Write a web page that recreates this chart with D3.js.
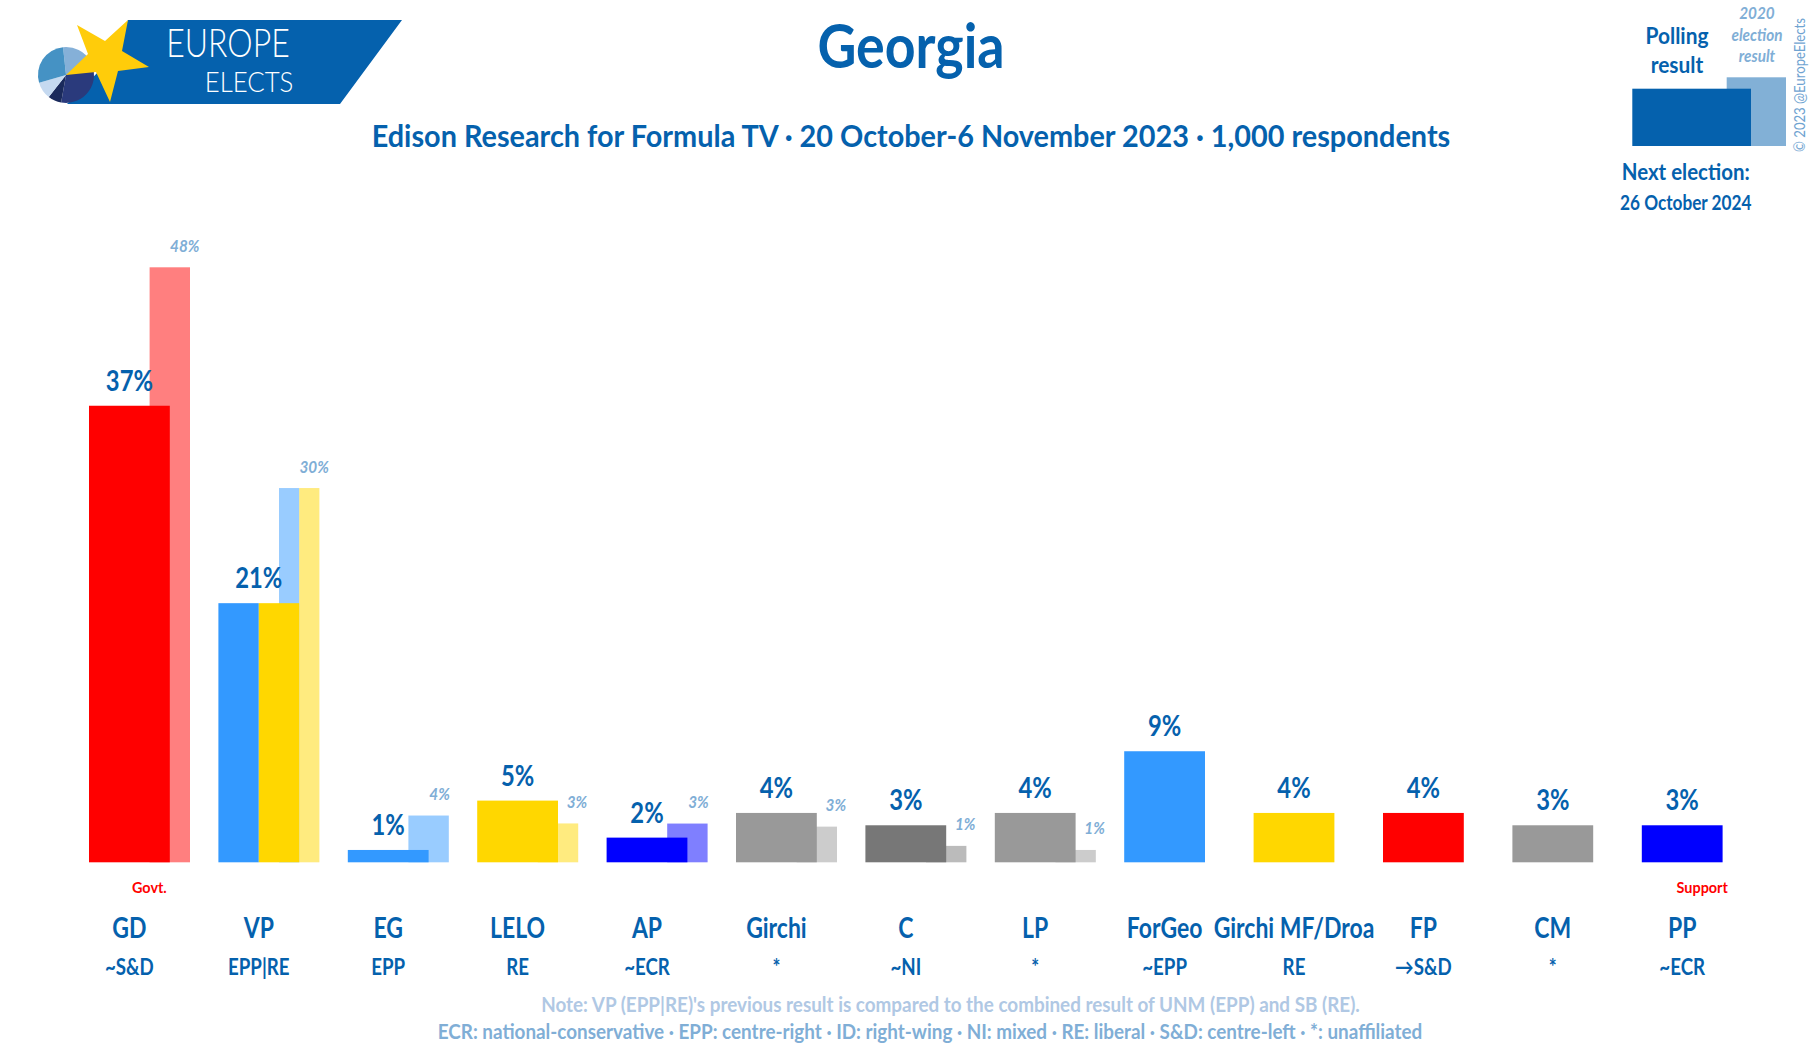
<!DOCTYPE html>
<html>
<head>
<meta charset="utf-8">
<title>Georgia poll</title>
<script src="https://cdn.jsdelivr.net/npm/d3@7"></script>
<style>
	body { margin: 0; background: #fff; }
	svg { display: block; }
	text { font-family: Lato, "Noto Sans", sans-serif; }
</style>
</head>
<body>
<svg id="chart"></svg>
<script>
const PARTIES = ["GD", "VP", "EG", "LELO", "AP", "Girchi", "C", "LP", "ForGeo", "Girchi MF/Droa", "FP", "CM", "PP"];
const GROUPS = ["~S&D", "EPP|RE", "EPP", "RE", "~ECR", "*", "~NI", "*", "~EPP", "RE", "→S&D", "*", "~ECR"];
const POLL = [37, 21, 1, 5, 2, 4, 3, 4, 9, 4, 4, 3, 3];
const PREVIOUS = [48.22, 30.33, 3.79, 3.15, 3.14, 2.89, 1.33, 1.0, null, null, null, null, null];
const BLOC = { GD: "Govt.", PP: "Support" };

const RED = "#ff0000", LIGHTBLUE = "#3399ff", YELLOW = "#ffd700", BLUE = "#0000ff", GREY = "#999999", DARKGREY = "#777777";
const PARTY_COLORS = [[RED], [LIGHTBLUE, YELLOW], [LIGHTBLUE], [YELLOW], [BLUE], [GREY], [DARKGREY], [GREY], [LIGHTBLUE], [YELLOW], [RED], [GREY], [BLUE]];

const INK = "#0561ad";
const PALE = "#80aed6";
const PALER = "#b0c8e4";

const width = 1816, height = 1052;
const svg = d3.select("#chart").attr("width", width).attr("height", height).attr("viewBox", [0, 0, width, height]);

// squeeze text horizontally, none of the installed fonts is as narrow as the original one
function squeeze(sel, k) {
	sel.each(function () {
		this.setAttribute("textLength", this.getComputedTextLength() * k);
		this.setAttribute("lengthAdjust", "spacingAndGlyphs");
	});
	return sel;
}

function label(g, str, x, y, size, opts = {}) {
	const t = g.append("text")
		.attr("x", x)
		.attr("y", y)
		.attr("font-size", size)
		.attr("font-weight", opts.weight || 400)
		.attr("font-style", opts.italic ? "italic" : "normal")
		.attr("text-anchor", opts.anchor || "middle")
		.attr("fill", opts.fill || INK)
		.text(str);
	if (opts.k) squeeze(t, opts.k);
	return t;
}

// scales
const x = d3.scaleBand()
	.domain(PARTIES)
	.range([89, 89 + 12 * 129.4 + 101])
	.paddingInner(1 - 101 / 129.4);
const y = d3.scaleLinear().domain([0, 48.22]).range([862.3, 267.3]);
const pollW = x.bandwidth() * 0.8;
const prevW = x.bandwidth() * 0.4;
const prevX = x.bandwidth() * 0.6;

const rows = PARTIES.map((p, i) => ({ party: p, group: GROUPS[i], poll: POLL[i], prev: PREVIOUS[i], colors: PARTY_COLORS[i] }));

// bars
const bars = svg.append("g");
const column = bars.selectAll("g").data(rows).join("g")
	.attr("transform", d => `translate(${x(d.party)},0)`);

column.filter(d => d.prev !== null).selectAll("rect.prev")
	.data(d => d.colors.map((c, i) => ({ c, i, n: d.colors.length, v: d.prev })))
	.join("rect")
	.attr("class", "prev")
	.attr("x", d => prevX + d.i * prevW / d.n)
	.attr("width", d => prevW / d.n)
	.attr("y", d => y(d.v))
	.attr("height", d => y(0) - y(d.v))
	.attr("fill", d => d.c)
	.attr("opacity", 0.5);

column.selectAll("rect.poll")
	.data(d => d.colors.map((c, i) => ({ c, i, n: d.colors.length, v: d.poll })))
	.join("rect")
	.attr("class", "poll")
	.attr("x", d => d.i * pollW / d.n)
	.attr("width", d => pollW / d.n)
	.attr("y", d => y(d.v))
	.attr("height", d => y(0) - y(d.v))
	.attr("fill", d => d.c);

// value labels
rows.forEach(d => {
	const cx = x(d.party) + pollW / 2;
	label(svg, d.poll + "%", cx, y(d.poll) - 15, 29, { weight: 700, k: 0.82 });
	if (d.prev !== null) {
		// small labels sit a bit further in when the old bar is the taller one
		const dx = d.prev >= 10 ? 15 : d.prev > d.poll ? 11 : 19;
		const px = x(d.party) + prevX + prevW / 2 + dx;
		label(svg, d3.format(".0f")(d.prev) + "%", px, y(d.prev) - 15.5, 17, { italic: true, weight: 700, fill: PALE, k: 0.9 });
	}
	label(svg, d.party, cx, 938, 28, { weight: 700, k: 0.82 });
	label(svg, d.group, cx, 975, 22, { weight: 700, k: 0.85 });
	if (BLOC[d.party]) {
		label(svg, BLOC[d.party], cx + 20, 893, 16, { fill: "#ff0000", weight: 700, k: 0.9 });
	}
});

// header
label(svg, "Georgia", 911, 68, 61, { weight: 700, k: 0.88 });
label(svg, "Edison Research for Formula TV · 20 October-6 November 2023 · 1,000 respondents", 911, 146.5, 31, { weight: 700, k: 0.93 });

// legend box, top right
const legend = svg.append("g");
legend.append("rect").attr("x", 1726.7).attr("y", 77.3).attr("width", 59.3).attr("height", 68.7).attr("fill", INK).attr("opacity", 0.5);
legend.append("rect").attr("x", 1632.3).attr("y", 88.7).attr("width", 118.7).attr("height", 57.3).attr("fill", INK);
label(legend, "Polling", 1677, 43.5, 22, { weight: 700, k: 0.95 });
label(legend, "result", 1677, 72.7, 22, { weight: 700, k: 0.95 });
label(legend, "2020", 1757, 19, 17, { italic: true, fill: PALE, weight: 700, k: 0.9 });
label(legend, "election", 1757, 40.7, 17, { italic: true, fill: PALE, weight: 700, k: 0.9 });
label(legend, "result", 1757, 62, 17, { italic: true, fill: PALE, weight: 700, k: 0.9 });
label(legend, "Next election:", 1621.7, 180, 22, { anchor: "start", weight: 700, k: 0.93 });
label(legend, "26 October 2024", 1620, 210, 20, { anchor: "start", weight: 700, k: 0.86 });
squeeze(svg.append("text")
	.attr("transform", "translate(1805,152) rotate(-90)")
	.attr("font-size", 15)
	.attr("fill", "#6fa3d1")
	.text("© 2023 @EuropeElects"), 0.875);

// footer
label(svg, "Note: VP (EPP|RE)'s previous result is compared to the combined result of UNM (EPP) and SB (RE).", 950.5, 1012, 20, { fill: PALER, weight: 700, k: 0.943 });
label(svg, "ECR: national-conservative · EPP: centre-right · ID: right-wing · NI: mixed · RE: liberal · S&D: centre-left · *: unaffiliated", 930, 1039, 20, { fill: PALE, weight: 700, k: 0.943 });

// logo
const logo = svg.append("g");
logo.append("polygon").attr("points", "128,20 402,20 340,104 67,104 100,70").attr("fill", INK);
const PIE_SLICES = [66, 130, 28, 36, 100];
const PIE_COLORS = ["#85b0d8", "#2a3a7c", "#1a2a5c", "#c5d9f0", "#4592c4"];
const pie = d3.pie().sort(null).startAngle(-6 * Math.PI / 180).endAngle(354 * Math.PI / 180)(PIE_SLICES);
logo.append("g").attr("transform", "translate(66,75)")
	.selectAll("path").data(pie).join("path")
	.attr("d", d3.arc().innerRadius(0).outerRadius(28))
	.attr("fill", (d, i) => PIE_COLORS[i]);
logo.append("polygon")
	.attr("points", "77,25 105,41 128,20 122,51 149,67 118,71 110,102 96,72 66,75 88,54")
	.attr("fill", "#ffcc0a");
label(logo, "EUROPE", 228, 57.3, 39, { fill: "#fff", weight: 300, k: 0.82 });
label(logo, "ELECTS", 249, 92, 28, { fill: "#fff", weight: 300, k: 0.92 });
</script>
</body>
</html>
